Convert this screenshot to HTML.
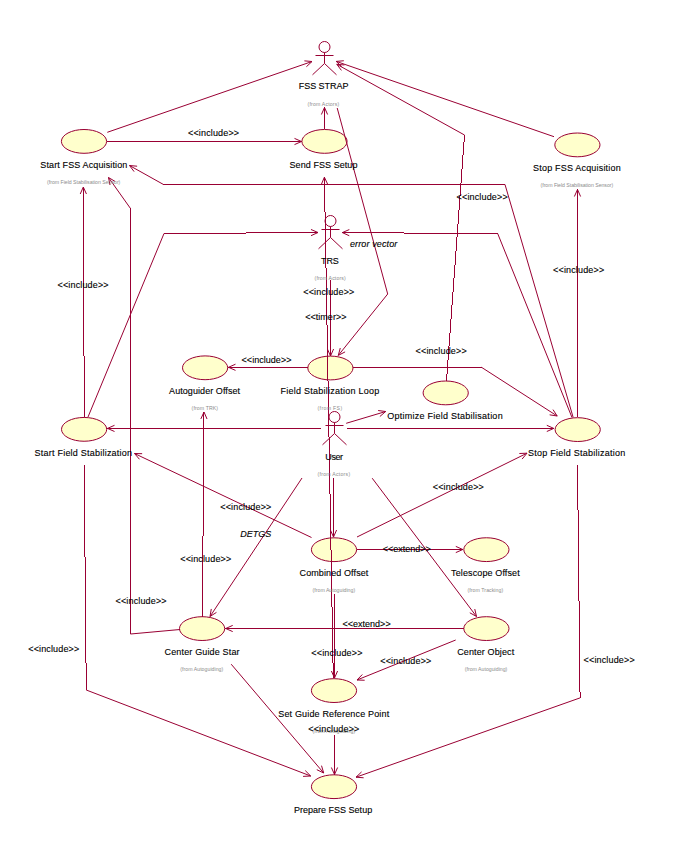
<!DOCTYPE html>
<html><head><meta charset="utf-8"><title>Use Case Diagram</title>
<style>
html,body{margin:0;padding:0;background:#fff;}
svg{display:block}
.t{font-family:"Liberation Sans",sans-serif;font-size:9px;fill:#000;stroke:#000;stroke-width:0.12px;}
.i{font-style:italic;}
.s{font-family:"Liberation Sans",sans-serif;font-size:5.2px;fill:#8c8c8c;stroke:none;}
</style></head><body>
<svg width="689" height="865" viewBox="0 0 689 865">
<rect width="689" height="865" fill="#fff"/>
<ellipse cx="84" cy="141.4" rx="22.6" ry="11.9" fill="#FFFFCC" stroke="#990033" stroke-width="1" shape-rendering="geometricPrecision"/>
<ellipse cx="324.5" cy="141.4" rx="22.6" ry="11.9" fill="#FFFFCC" stroke="#990033" stroke-width="1" shape-rendering="geometricPrecision"/>
<ellipse cx="577.4" cy="144.9" rx="22.6" ry="11.9" fill="#FFFFCC" stroke="#990033" stroke-width="1" shape-rendering="geometricPrecision"/>
<ellipse cx="205.1" cy="367.8" rx="22.6" ry="11.9" fill="#FFFFCC" stroke="#990033" stroke-width="1" shape-rendering="geometricPrecision"/>
<ellipse cx="330.4" cy="368" rx="22.6" ry="11.9" fill="#FFFFCC" stroke="#990033" stroke-width="1" shape-rendering="geometricPrecision"/>
<ellipse cx="445.7" cy="392.9" rx="22.6" ry="11.9" fill="#FFFFCC" stroke="#990033" stroke-width="1" shape-rendering="geometricPrecision"/>
<ellipse cx="84.1" cy="429.35" rx="22.6" ry="11.9" fill="#FFFFCC" stroke="#990033" stroke-width="1" shape-rendering="geometricPrecision"/>
<ellipse cx="577.7" cy="429.6" rx="22.6" ry="11.9" fill="#FFFFCC" stroke="#990033" stroke-width="1" shape-rendering="geometricPrecision"/>
<ellipse cx="334" cy="549.7" rx="22.6" ry="11.9" fill="#FFFFCC" stroke="#990033" stroke-width="1" shape-rendering="geometricPrecision"/>
<ellipse cx="486.4" cy="549.65" rx="22.6" ry="11.9" fill="#FFFFCC" stroke="#990033" stroke-width="1" shape-rendering="geometricPrecision"/>
<ellipse cx="202.1" cy="628.6" rx="22.6" ry="11.9" fill="#FFFFCC" stroke="#990033" stroke-width="1" shape-rendering="geometricPrecision"/>
<ellipse cx="486.4" cy="628.6" rx="22.6" ry="11.9" fill="#FFFFCC" stroke="#990033" stroke-width="1" shape-rendering="geometricPrecision"/>
<ellipse cx="334" cy="690.6" rx="22.6" ry="11.9" fill="#FFFFCC" stroke="#990033" stroke-width="1" shape-rendering="geometricPrecision"/>
<ellipse cx="334" cy="786.7" rx="22.6" ry="11.9" fill="#FFFFCC" stroke="#990033" stroke-width="1" shape-rendering="geometricPrecision"/>
<g fill="none" stroke="#990033" stroke-width="1" shape-rendering="geometricPrecision"><circle cx="324.5" cy="47" r="5.5" shape-rendering="geometricPrecision"/><path d="M324.5 52.5V63.5M315.5 55.5H333.5M324.5 63.5L312.5 74.8M324.5 63.5L336.5 74.8"/></g>
<g fill="none" stroke="#990033" stroke-width="1" shape-rendering="geometricPrecision"><circle cx="330.5" cy="221" r="5.5" shape-rendering="geometricPrecision"/><path d="M330.5 226.5V237.5M321.5 229.5H339.5M330.5 237.5L318.5 248.8M330.5 237.5L342.5 248.8"/></g>
<g fill="none" stroke="#990033" stroke-width="1" shape-rendering="geometricPrecision"><circle cx="334.5" cy="417" r="5.5" shape-rendering="geometricPrecision"/><path d="M334.5 422.5V433.5M325.5 425.5H343.5M334.5 433.5L322.5 444.8M334.5 433.5L346.5 444.8"/></g>
<line x1="107.3" y1="132.3" x2="312" y2="61.5" stroke="#990033" stroke-width="1" shape-rendering="geometricPrecision"/>
<path d="M306.40 66.72L312 61.5L304.37 60.86" fill="none" stroke="#990033" stroke-width="1" shape-rendering="geometricPrecision"/>
<path d="M107 141.5H302" fill="none" stroke="#990033" stroke-width="1" shape-rendering="crispEdges"/>
<path d="M294.50 144.60L301.5 141.5L294.50 138.40" fill="none" stroke="#990033" stroke-width="1" shape-rendering="geometricPrecision"/>
<path d="M324.5 107V129" fill="none" stroke="#990033" stroke-width="1" shape-rendering="crispEdges"/>
<path d="M327.60 114.50L324.5 107.5L321.40 114.50" fill="none" stroke="#990033" stroke-width="1" shape-rendering="geometricPrecision"/>
<line x1="554" y1="136.7" x2="336.2" y2="61.4" stroke="#990033" stroke-width="1" shape-rendering="geometricPrecision"/>
<path d="M343.83 60.76L336.2 61.4L341.80 66.62" fill="none" stroke="#990033" stroke-width="1" shape-rendering="geometricPrecision"/>
<path d="M464.5 135V142M463.5 142V155M462.5 155V169M461.5 169V183M460.5 183V196M459.5 196V210M458.5 210V224M457.5 224V237M456.5 237V251M455.5 251V265M454.5 265V278M453.5 278V292M452.5 292V305M451.5 305V319M450.5 319V333M449.5 333V346M448.5 346V360M447.5 360V374M446.5 374V381" fill="none" stroke="#990033" stroke-width="1" shape-rendering="crispEdges"/>
<line x1="464.5" y1="135" x2="336.8" y2="64.3" stroke="#990033" stroke-width="1" shape-rendering="geometricPrecision"/>
<path d="M344.43 64.98L336.8 64.3L341.42 70.40" fill="none" stroke="#990033" stroke-width="1" shape-rendering="geometricPrecision"/>
<line x1="337.2" y1="108" x2="387.7" y2="294" stroke="#990033" stroke-width="1" shape-rendering="geometricPrecision"/>
<line x1="387.7" y1="294" x2="338.3" y2="355.4" stroke="#990033" stroke-width="1" shape-rendering="geometricPrecision"/>
<path d="M340.27 348.00L338.3 355.4L345.10 351.89" fill="none" stroke="#990033" stroke-width="1" shape-rendering="geometricPrecision"/>
<line x1="573.2" y1="417.5" x2="505" y2="184.5" stroke="#990033" stroke-width="1" shape-rendering="geometricPrecision"/>
<path d="M163 184.5H505" fill="none" stroke="#990033" stroke-width="1" shape-rendering="crispEdges"/>
<line x1="163.5" y1="184.5" x2="129.5" y2="165.5" stroke="#990033" stroke-width="1" shape-rendering="geometricPrecision"/>
<path d="M137.12 166.21L129.5 165.5L134.10 171.62" fill="none" stroke="#990033" stroke-width="1" shape-rendering="geometricPrecision"/>
<line x1="572" y1="417.5" x2="497.7" y2="233.6" stroke="#990033" stroke-width="1" shape-rendering="geometricPrecision"/>
<path d="M342 232.5H404M404 233.5H498" fill="none" stroke="#990033" stroke-width="1" shape-rendering="crispEdges"/>
<path d="M349.32 229.55L342.3 232.6L349.28 235.74" fill="none" stroke="#990033" stroke-width="1" shape-rendering="geometricPrecision"/>
<path d="M83.5 187V356M84.5 356V417" fill="none" stroke="#990033" stroke-width="1" shape-rendering="crispEdges"/>
<path d="M86.43 193.99L83.3 187L80.23 194.01" fill="none" stroke="#990033" stroke-width="1" shape-rendering="geometricPrecision"/>
<line x1="88" y1="417" x2="164" y2="233.53" stroke="#990033" stroke-width="1" shape-rendering="geometricPrecision"/>
<path d="M164 233.5H246M246 232.5H318" fill="none" stroke="#990033" stroke-width="1" shape-rendering="crispEdges"/>
<path d="M311.02 235.68L318 232.53L310.98 229.48" fill="none" stroke="#990033" stroke-width="1" shape-rendering="geometricPrecision"/>
<line x1="180" y1="629.5" x2="130.5" y2="634" stroke="#990033" stroke-width="1" shape-rendering="geometricPrecision"/>
<path d="M130.5 208V634" fill="none" stroke="#990033" stroke-width="1" shape-rendering="crispEdges"/>
<line x1="130.5" y1="208.5" x2="108.5" y2="177.5" stroke="#990033" stroke-width="1" shape-rendering="geometricPrecision"/>
<path d="M115.08 181.41L108.5 177.5L110.02 185.00" fill="none" stroke="#990033" stroke-width="1" shape-rendering="geometricPrecision"/>
<path d="M324.5 177V212M325.5 212V268M326.5 268V325M327.5 325V381M328.5 381V437M329.5 437V494M330.5 494V550M331.5 550V607M332.5 607V663M333.5 663V678" fill="none" stroke="#990033" stroke-width="1" shape-rendering="crispEdges"/>
<path d="M327.61 184.14L324.39 177.2L321.41 184.25" fill="none" stroke="#990033" stroke-width="1" shape-rendering="geometricPrecision"/>
<path d="M330.5 280V356" fill="none" stroke="#990033" stroke-width="1" shape-rendering="crispEdges"/>
<path d="M327.40 349.00L330.5 356L333.60 349.00" fill="none" stroke="#990033" stroke-width="1" shape-rendering="geometricPrecision"/>
<path d="M228 367.5H308" fill="none" stroke="#990033" stroke-width="1" shape-rendering="crispEdges"/>
<path d="M235.50 364.20L228.5 367.3L235.50 370.40" fill="none" stroke="#990033" stroke-width="1" shape-rendering="geometricPrecision"/>
<path d="M353 367.5H482" fill="none" stroke="#990033" stroke-width="1" shape-rendering="crispEdges"/>
<line x1="481.5" y1="367.3" x2="557.2" y2="416" stroke="#990033" stroke-width="1" shape-rendering="geometricPrecision"/>
<path d="M549.64 414.82L557.2 416L552.99 409.61" fill="none" stroke="#990033" stroke-width="1" shape-rendering="geometricPrecision"/>
<line x1="346.2" y1="423.3" x2="385.7" y2="411.5" stroke="#990033" stroke-width="1" shape-rendering="geometricPrecision"/>
<path d="M379.88 416.47L385.7 411.5L378.11 410.53" fill="none" stroke="#990033" stroke-width="1" shape-rendering="geometricPrecision"/>
<path d="M107 428.5H321" fill="none" stroke="#990033" stroke-width="1" shape-rendering="crispEdges"/>
<path d="M114.50 425.30L107.5 428.4L114.50 431.50" fill="none" stroke="#990033" stroke-width="1" shape-rendering="geometricPrecision"/>
<path d="M347 428.5H554" fill="none" stroke="#990033" stroke-width="1" shape-rendering="crispEdges"/>
<path d="M546.80 431.50L553.8 428.4L546.80 425.30" fill="none" stroke="#990033" stroke-width="1" shape-rendering="geometricPrecision"/>
<path d="M203.5 412V536M202.5 536V617" fill="none" stroke="#990033" stroke-width="1" shape-rendering="crispEdges"/>
<path d="M207.04 419.02L204 412L200.84 418.97" fill="none" stroke="#990033" stroke-width="1" shape-rendering="geometricPrecision"/>
<line x1="311.5" y1="537.5" x2="134.5" y2="453.5" stroke="#990033" stroke-width="1" shape-rendering="geometricPrecision"/>
<path d="M142.15 453.70L134.5 453.5L139.49 459.30" fill="none" stroke="#990033" stroke-width="1" shape-rendering="geometricPrecision"/>
<line x1="357" y1="537" x2="527" y2="453.2" stroke="#990033" stroke-width="1" shape-rendering="geometricPrecision"/>
<path d="M522.09 459.08L527 453.2L519.35 453.51" fill="none" stroke="#990033" stroke-width="1" shape-rendering="geometricPrecision"/>
<line x1="302" y1="478" x2="210" y2="616.5" stroke="#990033" stroke-width="1" shape-rendering="geometricPrecision"/>
<path d="M211.29 608.95L210 616.5L216.46 612.38" fill="none" stroke="#990033" stroke-width="1" shape-rendering="geometricPrecision"/>
<line x1="372.2" y1="478.2" x2="476.5" y2="616.5" stroke="#990033" stroke-width="1" shape-rendering="geometricPrecision"/>
<path d="M469.81 612.78L476.5 616.5L474.76 609.04" fill="none" stroke="#990033" stroke-width="1" shape-rendering="geometricPrecision"/>
<path d="M357 549.5H463" fill="none" stroke="#990033" stroke-width="1" shape-rendering="crispEdges"/>
<path d="M455.80 552.60L462.8 549.5L455.80 546.40" fill="none" stroke="#990033" stroke-width="1" shape-rendering="geometricPrecision"/>
<path d="M225 628.5H464" fill="none" stroke="#990033" stroke-width="1" shape-rendering="crispEdges"/>
<path d="M232.70 625.40L225.7 628.5L232.70 631.60" fill="none" stroke="#990033" stroke-width="1" shape-rendering="geometricPrecision"/>
<line x1="455.7" y1="640" x2="357" y2="680" stroke="#990033" stroke-width="1" shape-rendering="geometricPrecision"/>
<path d="M362.32 674.50L357 680L364.65 680.24" fill="none" stroke="#990033" stroke-width="1" shape-rendering="geometricPrecision"/>
<line x1="231.2" y1="664.2" x2="323.7" y2="773" stroke="#990033" stroke-width="1" shape-rendering="geometricPrecision"/>
<path d="M316.80 769.67L323.7 773L321.53 765.66" fill="none" stroke="#990033" stroke-width="1" shape-rendering="geometricPrecision"/>
<path d="M84.5 465V557M85.5 557V663M86.5 663V690" fill="none" stroke="#990033" stroke-width="1" shape-rendering="crispEdges"/>
<line x1="86.25" y1="690" x2="310.7" y2="776" stroke="#990033" stroke-width="1" shape-rendering="geometricPrecision"/>
<path d="M303.05 776.39L310.7 776L305.27 770.60" fill="none" stroke="#990033" stroke-width="1" shape-rendering="geometricPrecision"/>
<path d="M577.5 465V510M578.5 510V601M579.5 601V692M580.5 692V698" fill="none" stroke="#990033" stroke-width="1" shape-rendering="crispEdges"/>
<line x1="580.06" y1="697.9" x2="356" y2="777.2" stroke="#990033" stroke-width="1" shape-rendering="geometricPrecision"/>
<path d="M361.56 771.94L356 777.2L363.63 777.79" fill="none" stroke="#990033" stroke-width="1" shape-rendering="geometricPrecision"/>
<path d="M334.5 735V775" fill="none" stroke="#990033" stroke-width="1" shape-rendering="crispEdges"/>
<path d="M331.40 767.50L334.5 774.5L337.60 767.50" fill="none" stroke="#990033" stroke-width="1" shape-rendering="geometricPrecision"/>
<path d="M333.5 478V537" fill="none" stroke="#990033" stroke-width="1" shape-rendering="crispEdges"/>
<path d="M330.40 530.00L333.5 537L336.60 530.00" fill="none" stroke="#990033" stroke-width="1" shape-rendering="geometricPrecision"/>
<path d="M334.5 594V678" fill="none" stroke="#990033" stroke-width="1" shape-rendering="crispEdges"/>
<path d="M331.40 671.00L334.5 678L337.60 671.00" fill="none" stroke="#990033" stroke-width="1" shape-rendering="geometricPrecision"/>
<path d="M577.5 189V417" fill="none" stroke="#990033" stroke-width="1" shape-rendering="crispEdges"/>
<path d="M580.60 196.50L577.5 189.5L574.40 196.50" fill="none" stroke="#990033" stroke-width="1" shape-rendering="geometricPrecision"/>
<text class="t" x="298.75" y="88.7" textLength="49.7" lengthAdjust="spacing">FSS STRAP</text>
<text class="t" x="40.25" y="167.8" textLength="87.1" lengthAdjust="spacing">Start FSS Acquisition</text>
<text class="t" x="289.55" y="168" textLength="67.9" lengthAdjust="spacing">Send FSS Setup</text>
<text class="t" x="533.05" y="171.2" textLength="87.6" lengthAdjust="spacing">Stop FSS Acquisition</text>
<text class="t" x="321.05" y="263.6" textLength="17.8" lengthAdjust="spacing">TRS</text>
<text class="t i" x="349.95" y="246.5" textLength="47.4" lengthAdjust="spacing">error vector</text>
<text class="t" x="169.05" y="394" textLength="71.0" lengthAdjust="spacing">Autoguider Offset</text>
<text class="t" x="280.55" y="394" textLength="98.8" lengthAdjust="spacing">Field Stabilization Loop</text>
<text class="t" x="387.25" y="419" textLength="115.4" lengthAdjust="spacing">Optimize Field Stabilisation</text>
<text class="t" x="34.55" y="455.7" textLength="97.5" lengthAdjust="spacing">Start Field Stabilization</text>
<text class="t" x="528.05" y="455.7" textLength="97.1" lengthAdjust="spacing">Stop Field Stabilization</text>
<text class="t" x="325.35" y="459.5" textLength="17.6" lengthAdjust="spacing">User</text>
<text class="t i" x="240.25" y="536.5" textLength="30.9" lengthAdjust="spacing">DETGS</text>
<text class="t" x="299.55" y="575.6" textLength="68.8" lengthAdjust="spacing">Combined Offset</text>
<text class="t" x="451.05" y="576" textLength="68.7" lengthAdjust="spacing">Telescope Offset</text>
<text class="t" x="164.55" y="654.7" textLength="75.0" lengthAdjust="spacing">Center Guide Star</text>
<text class="t" x="457.25" y="654.7" textLength="56.9" lengthAdjust="spacing">Center Object</text>
<text class="t" x="278.25" y="716.7" textLength="110.9" lengthAdjust="spacing">Set Guide Reference Point</text>
<text class="t" x="294.05" y="813" textLength="78.1" lengthAdjust="spacing">Prepare FSS Setup</text>
<text class="s" x="307.55" y="105.8" textLength="31.6" lengthAdjust="spacing">(from Actors)</text>
<text class="s" x="47.05" y="183.9" textLength="73.3" lengthAdjust="spacing">(from Field Stabilisation Sensor)</text>
<text class="s" x="540.55" y="187.1" textLength="72.6" lengthAdjust="spacing">(from Field Stabilisation Sensor)</text>
<text class="s" x="314.55" y="279.8" textLength="31.2" lengthAdjust="spacing">(from Actors)</text>
<text class="s" x="191.55" y="410.1" textLength="26.5" lengthAdjust="spacing">(from TRK)</text>
<text class="s" x="317.55" y="410.1" textLength="24.6" lengthAdjust="spacing">(from FS)</text>
<text class="s" x="317.55" y="475.90000000000003" textLength="32.6" lengthAdjust="spacing">(from Actors)</text>
<text class="s" x="312.55" y="591.9" textLength="42.6" lengthAdjust="spacing">(from Autoguiding)</text>
<text class="s" x="467.55" y="591.9" textLength="35.6" lengthAdjust="spacing">(from Tracking)</text>
<text class="s" x="180.25" y="670.6" textLength="43.0" lengthAdjust="spacing">(from Autoguiding)</text>
<text class="s" x="464.75" y="670.6" textLength="42.6" lengthAdjust="spacing">(from Autoguiding)</text>
<text class="s" x="312.55" y="732.6" textLength="42.6" lengthAdjust="spacing">(from Autoguiding)</text>
<text class="t" x="188.05" y="135.7" textLength="51.0" lengthAdjust="spacing">&lt;&lt;include&gt;&gt;</text>
<text class="t" x="456.55" y="200" textLength="51.1" lengthAdjust="spacing">&lt;&lt;include&gt;&gt;</text>
<text class="t" x="57.55" y="287.7" textLength="51.0" lengthAdjust="spacing">&lt;&lt;include&gt;&gt;</text>
<text class="t" x="303.25" y="294.6" textLength="51.1" lengthAdjust="spacing">&lt;&lt;include&gt;&gt;</text>
<text class="t" x="305.25" y="319.7" textLength="41.2" lengthAdjust="spacing">&lt;&lt;timer&gt;&gt;</text>
<text class="t" x="553.05" y="272.5" textLength="51.1" lengthAdjust="spacing">&lt;&lt;include&gt;&gt;</text>
<text class="t" x="241.55" y="362.7" textLength="49.9" lengthAdjust="spacing">&lt;&lt;include&gt;&gt;</text>
<text class="t" x="415.55" y="354" textLength="51.1" lengthAdjust="spacing">&lt;&lt;include&gt;&gt;</text>
<text class="t" x="220.25" y="509.5" textLength="51.1" lengthAdjust="spacing">&lt;&lt;include&gt;&gt;</text>
<text class="t" x="432.75" y="489.5" textLength="51.1" lengthAdjust="spacing">&lt;&lt;include&gt;&gt;</text>
<text class="t" x="180.25" y="561.5" textLength="51.0" lengthAdjust="spacing">&lt;&lt;include&gt;&gt;</text>
<text class="t" x="382.75" y="551.6" textLength="48.1" lengthAdjust="spacing">&lt;&lt;extend&gt;&gt;</text>
<text class="t" x="115.55" y="604" textLength="51.0" lengthAdjust="spacing">&lt;&lt;include&gt;&gt;</text>
<text class="t" x="342.55" y="627" textLength="48.1" lengthAdjust="spacing">&lt;&lt;extend&gt;&gt;</text>
<text class="t" x="28.25" y="651.6" textLength="51.0" lengthAdjust="spacing">&lt;&lt;include&gt;&gt;</text>
<text class="t" x="311.35" y="656" textLength="51.1" lengthAdjust="spacing">&lt;&lt;include&gt;&gt;</text>
<text class="t" x="380.25" y="663.5" textLength="51.1" lengthAdjust="spacing">&lt;&lt;include&gt;&gt;</text>
<text class="t" x="583.55" y="662.5" textLength="51.1" lengthAdjust="spacing">&lt;&lt;include&gt;&gt;</text>
<text class="t" x="308.25" y="731.7" textLength="51.1" lengthAdjust="spacing">&lt;&lt;include&gt;&gt;</text>
</svg>
</body></html>
